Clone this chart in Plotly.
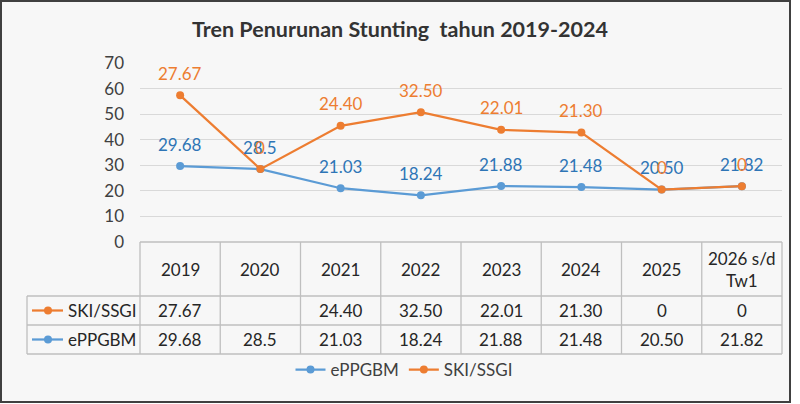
import plotly.graph_objects as go

# ---------------- data ----------------
categories = ["2019", "2020", "2021", "2022", "2023", "2024", "2025", "2026 s/d<br>Tw1"]
eppgbm_labels = ["29.68", "28.5", "21.03", "18.24", "21.88", "21.48", "20.50", "21.82"]
ski_labels = ["27.67", "", "24.40", "32.50", "22.01", "21.30", "0", "0"]
series_names = ["ePPGBM", "SKI/SSGI"]
title_text = "Tren Penurunan Stunting  tahun 2019-2024"
y_ticks = [0, 10, 20, 30, 40, 50, 60, 70]

eppgbm = [float(v) for v in eppgbm_labels]
ski = [float(v) if v else 0.0 for v in ski_labels]
# stacked line chart (Excel "stacked line"): SKI/SSGI is plotted on top of ePPGBM
ski_stacked = [a + b for a, b in zip(eppgbm, ski)]
ski_point_labels = [v if v else "0" for v in ski_labels]

# ---------------- style ----------------
W, H = 800, 404
L, R, T, B = 140, 782, 63, 242
FONT = "Lato, 'Open Sans', sans-serif"
BLUE, ORANGE = "#5B9BD5", "#ED7D31"
BLUE_TXT, ORANGE_TXT = "#2E75B6", "#ED7D31"
TXT = "#404040"
GRID = "#d9d9d9"
TBL = "#bfbfbf"
FS = 17


def px_x(px):
    return (px - L) / (R - L)


def px_y(py):
    return (B - py) / (B - T)


n = len(categories)
xs = list(range(n))

fig = go.Figure()
fig.add_trace(go.Scatter(
    x=xs, y=eppgbm, name=series_names[0], mode="lines+markers",
    line=dict(color=BLUE, width=2.25), marker=dict(color=BLUE, size=8),
    cliponaxis=False,
))
fig.add_trace(go.Scatter(
    x=xs, y=ski_stacked, name=series_names[1], mode="lines+markers",
    line=dict(color=ORANGE, width=2.25), marker=dict(color=ORANGE, size=8),
    cliponaxis=False,
))

shapes = []
annotations = []

# outer frame
shapes.append(dict(type="rect", xref="paper", yref="paper",
                   x0=px_x(1), x1=px_x(790), y0=px_y(402), y1=px_y(1),
                   line=dict(color="#404040", width=2), fillcolor="#f7f7f7", layer="below"))

# data labels
for i in range(n):
    annotations.append(dict(x=i, y=eppgbm[i], xref="x", yref="y", text=eppgbm_labels[i],
                            showarrow=False, yshift=22, yanchor="middle",
                            font=dict(family=FONT, size=FS, color=BLUE_TXT)))
for i in range(n):
    annotations.append(dict(x=i, y=ski_stacked[i], xref="x", yref="y", text=ski_point_labels[i],
                            showarrow=False, yshift=22, yanchor="middle",
                            font=dict(family=FONT, size=FS, color=ORANGE_TXT)))

# data table
row_top, row_hdr, row1, row2 = 242, 296, 325, 354
tl = dict(color=TBL, width=1.3)
shapes.append(dict(type="line", xref="paper", yref="paper", x0=0, x1=1,
                   y0=px_y(row_top), y1=px_y(row_top), line=tl))
for yy in (row_hdr, row1, row2):
    shapes.append(dict(type="line", xref="paper", yref="paper", x0=px_x(27), x1=1,
                       y0=px_y(yy), y1=px_y(yy), line=tl))
shapes.append(dict(type="line", xref="paper", yref="paper", x0=px_x(27), x1=px_x(27),
                   y0=px_y(row_hdr), y1=px_y(row2), line=tl))
for k in range(n + 1):
    shapes.append(dict(type="line", xref="paper", yref="paper", x0=k / n, x1=k / n,
                       y0=px_y(row_top), y1=px_y(row2), line=tl))

for i, c in enumerate(categories):
    annotations.append(dict(x=i, xref="x", y=px_y((row_top + row_hdr) / 2), yref="paper",
                            text=c, showarrow=False, yanchor="middle",
                            font=dict(family=FONT, size=FS, color="#262626")))
    annotations.append(dict(x=i, xref="x", y=px_y((row_hdr + row1) / 2), yref="paper",
                            text=ski_labels[i], showarrow=False, yanchor="middle",
                            font=dict(family=FONT, size=FS, color="#262626")))
    annotations.append(dict(x=i, xref="x", y=px_y((row1 + row2) / 2), yref="paper",
                            text=eppgbm_labels[i], showarrow=False, yanchor="middle",
                            font=dict(family=FONT, size=FS, color="#262626")))

# row legend keys in table
for name, col, (ya, yb) in ((series_names[1], ORANGE, (row_hdr, row1)),
                            (series_names[0], BLUE, (row1, row2))):
    yc = px_y((ya + yb) / 2)
    shapes.append(dict(type="line", xref="paper", yref="paper", x0=px_x(32), x1=px_x(63),
                       y0=yc, y1=yc, line=dict(color=col, width=2.25)))
    shapes.append(dict(type="circle", xref="paper", yref="paper",
                       x0=px_x(44), x1=px_x(52), y0=yc - 4 / (B - T), y1=yc + 4 / (B - T),
                       line=dict(color=col, width=0), fillcolor=col))
    annotations.append(dict(x=px_x(66), y=yc, xref="paper", yref="paper", text=name,
                            showarrow=False, xanchor="left", yanchor="middle",
                            font=dict(family=FONT, size=FS, color="#262626")))

fig.update_layout(
    width=W, height=H,
    margin=dict(l=L, r=W - R, t=T, b=H - B),
    paper_bgcolor="white", plot_bgcolor="rgba(0,0,0,0)",
    title=dict(text="<b>" + title_text + "</b>", x=0.5, xanchor="center",
               y=1 - 29 / H, yanchor="middle",
               font=dict(family=FONT, size=21.5, color="#333333")),
    xaxis=dict(range=[-0.5, n - 0.5], showticklabels=False, showgrid=False,
               zeroline=False, showline=False, fixedrange=True),
    yaxis=dict(range=[0, 70], tickvals=y_ticks, showgrid=True, gridcolor=GRID, gridwidth=1,
               zeroline=False, showline=False, ticks="", ticklabelstandoff=15,
               tickfont=dict(family=FONT, size=FS, color=TXT)),
    legend=dict(orientation="h", x=px_x(404), xanchor="center", y=px_y(370),
                yanchor="middle", bgcolor="rgba(0,0,0,0)",
                font=dict(family=FONT, size=FS, color=TXT), traceorder="normal"),
    showlegend=True,
    shapes=shapes, annotations=annotations,
)

fig.write_html("out.html")
